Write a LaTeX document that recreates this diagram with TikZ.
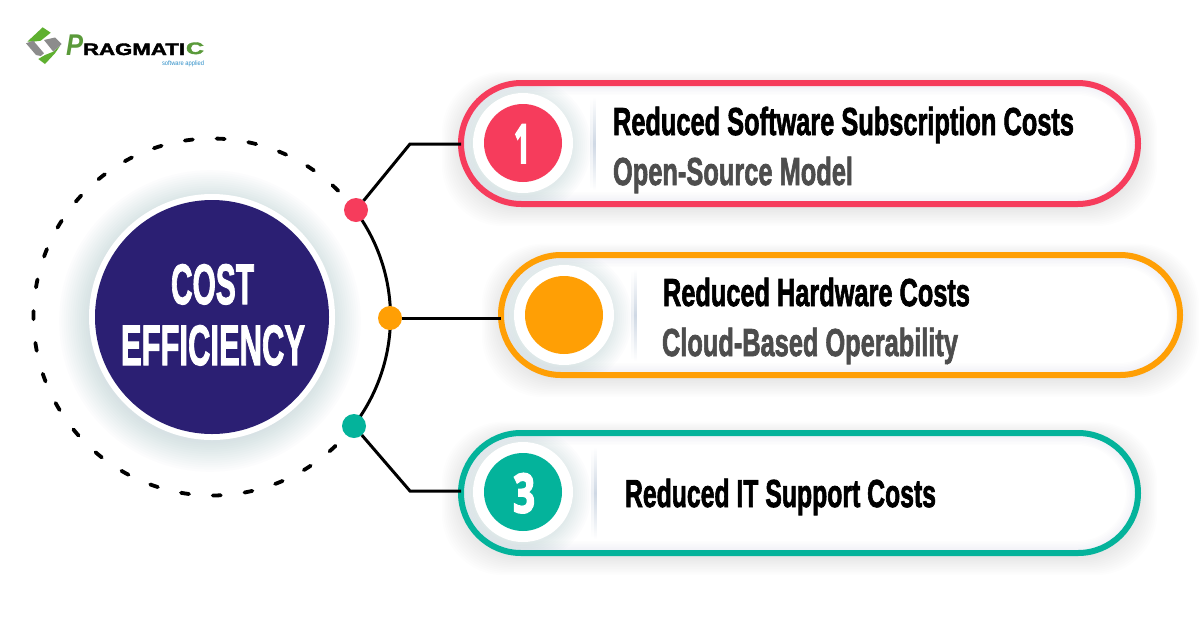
\documentclass[tikz,border=0pt]{standalone}
\usepackage{fontspec}
\usepackage{graphicx}
\setmainfont{Liberation Sans}[BoldFeatures={FakeBold=2.2}]
\newfontfamily\numfont{Open Sans}[BoldFeatures={FakeBold=3.5}]
\usetikzlibrary{shapes.misc}
\definecolor{cred}{HTML}{F63C5C}
\definecolor{corange}{HTML}{FF9F05}
\definecolor{cteal}{HTML}{04B39B}
\definecolor{cnavy}{HTML}{2B1F73}
\definecolor{cgray}{HTML}{4D4D4D}
\definecolor{cshadow}{HTML}{5F7FA8}
\definecolor{lgreen}{HTML}{5FB030}
\definecolor{ldgreen}{HTML}{5A9A3A}
\definecolor{lgray}{HTML}{8C8C8C}
\definecolor{lblue}{HTML}{2F8FC8}
\newlength{\fitlen}
% width, font size, text
\newcommand{\fitw}[3]{\fontsize{#2}{#2}\selectfont\settowidth{\fitlen}{#3}\pgfmathsetmacro{\fitfac}{#1/\fitlen*1pt/1pt}\scalebox{\fitfac}[1]{#3}}
\tikzset{
  pillbox/.style={draw=#1,rounded rectangle,line width=6pt,inner sep=0pt,outer sep=0pt},
  dotnode/.style={circle,fill=#1,inner sep=0pt,outer sep=0pt,minimum size=24pt},
  numdisc/.style={circle,fill=#1,inner sep=0pt,outer sep=0pt,minimum size=78pt,text=white},
  whitedisc/.style={circle,fill=white,inner sep=0pt,outer sep=0pt,minimum size=100pt},
  wire/.style={line width=3pt,black},
  dashbit/.style={line width=3.8pt,line cap=round},
  lab/.style={anchor=base west,inner sep=0pt,outer sep=0pt},
  titletxt/.style={lab,text=black,font=\bfseries},
  subtxt/.style={lab,text=cgray,font=\bfseries},
  sepbar/.style={top color=white,bottom color=white,middle color=cshadow!50,shading angle=0},
}
\newcommand{\pillback}[7]{% x1,y1,x2,y2, disc x, disc y, sep x
  \foreach \i in {1,...,12}{
    \fill[black,opacity=.006,rounded corners=62pt] (#1-\i*1.6,#2-\i*1.2+3) rectangle (#3+\i*1.6,#4+\i*1.6+3);
  }
  \fill[white,rounded corners=60.5pt] (#1,#2) rectangle (#3,#4);
  \begin{scope}
    \clip[rounded corners=60.5pt] (#1,#2) rectangle (#3,#4);
    \foreach \i in {1,...,8}{
      \draw[cshadow,opacity=.012,line width=\i*3pt,rounded corners=60.5pt] (#1,#2) rectangle (#3,#4);
    }
    \foreach \i in {1,...,10}{
      \fill[cshadow,opacity=.016] (#5-1,#6+3) circle[radius=49+\i*2];
    }
  \end{scope}
  \shade[sepbar,opacity=.25] (#7-5,#2+16) rectangle (#7+.5,#4-16);
  \shade[sepbar,opacity=.45] (#7-1.5,#2+14) rectangle (#7+.5,#4-14);
}
\begin{document}
\begin{tikzpicture}[x=1pt,y=-1pt]
\useasboundingbox (0,0) rectangle (1200,630);
\fill[white] (0,0) rectangle (1200,630);

% logo
\fill[lgreen] (27.3,41.7) -- (42.7,27.3) -- (50.7,32.7) -- (40.7,40.7) -- (33.3,41.7) -- cycle;
\fill[lgreen] (38.3,59) -- (45,55) -- (53.3,51.7) -- (60,46) -- (55,53.3) -- (45,64) -- cycle;
\fill[lgray] (26,43.3) -- (33.3,40.7) -- (44,53.3) -- (40.7,56) -- (36,55) -- cycle;
\fill[lgray] (44,40) -- (55,37.5) -- (61.7,44) -- (53.3,51.7) -- cycle;
\node[lab,text=ldgreen,font=\bfseries\itshape] (logoP) at (66,55) {\fitw{17}{30}{P}};
\node[lab,text=black,font=\bfseries] (logoT) at (83,55) {\fitw{102}{16.5}{RAGMATI}};
\node[lab,text=ldgreen,font=\bfseries] (logoC) at (186,54) {\fitw{18}{16.5}{C}};
\node[lab,text=lblue] (logoS) at (162,65) {\fitw{42}{6.5}{software applied}};

% centre circle
\foreach \i in {1,...,14}{
  \fill[cshadow,opacity=.014] (210,321) circle[radius=120+\i*2.2];
}
\node[circle,fill=white,inner sep=0pt,minimum size=246pt] (ring) at (212,317) {};
\node[circle,fill=cnavy,inner sep=0pt,minimum size=234pt] (core) at (212,317) {};
\node[lab,text=white,font=\bfseries] (cost) at (171,304) {\fitw{83}{57}{COST}};
\node[lab,text=white,font=\bfseries] (eff) at (121,365) {\fitw{184}{57}{EFFICIENCY}};

% circles
\foreach \k in {0,...,26}{
  \pgfmathsetmacro{\angA}{47.5+10.24*\k-1.3}
  \pgfmathsetmacro{\angB}{47.5+10.24*\k+1.3}
  \draw[dashbit] (212,317) ++(\angA:178.5) arc[start angle=\angA,end angle=\angB,radius=178.5];
}
\draw[line width=3pt] (212,317) ++(-37:178.5) arc[start angle=-37,end angle=37,radius=178.5];

% pills: backgrounds
\pillback{461}{83}{1138}{204}{523}{143}{595}
\pillback{501}{255}{1180}{375}{564}{315}{636}
\pillback{461}{433}{1138}{553}{523}{492}{596}

% pills
\node[pillbox=cred,minimum width=677pt,minimum height=121pt] (pill1) at (799.5,143.5) {};
\node[pillbox=corange,minimum width=679pt,minimum height=120pt] (pill2) at (840.5,315) {};
\node[pillbox=cteal,minimum width=677pt,minimum height=120pt] (pill3) at (799.5,493) {};

\node[whitedisc] (w1) at (523,143) {};
\node[whitedisc] (w2) at (564,315) {};
\node[whitedisc] (w3) at (523,492) {};
\node[numdisc=cred] (n1) at (523,143) {};
\node[numdisc=corange] (n2) at (564,315) {};
\node[numdisc=cteal] (n3) at (523,492) {};
\node[lab,text=white,font=\numfont\bfseries] (d1) at (514,163) {\fitw{16}{54}{1}};
\node[lab,text=white,font=\numfont\bfseries] (d3) at (513,512.5) {\fitw{22}{54}{3}};

% text
\node[titletxt] (t1) at (613,135) {\fitw{461}{39}{Reduced Software Subscription Costs}};
\node[subtxt] (s1) at (613,185) {\fitw{240}{39}{Open-Source Model}};
\node[titletxt] (t2) at (663,306) {\fitw{307}{39}{Reduced Hardware Costs}};
\node[subtxt] (s2) at (662,356) {\fitw{296}{39}{Cloud-Based Operability}};
\node[titletxt] (t3) at (625,507) {\fitw{311}{39}{Reduced IT Support Costs}};

% connectors
\node[dotnode=cred] (dot1) at (356,210) {};
\node[dotnode=corange] (dot2) at (390,318) {};
\node[dotnode=cteal] (dot3) at (354,426) {};
\coordinate (e1) at (410,144);
\coordinate (e3) at (410,491);
\draw[wire] (dot1) -- (e1) -- (pill1.west |- e1);
\draw[wire] (dot2) -- (pill2.west |- dot2);
\draw[wire] (dot3) -- (e3) -- (pill3.west |- e3);
\end{tikzpicture}
\end{document}
